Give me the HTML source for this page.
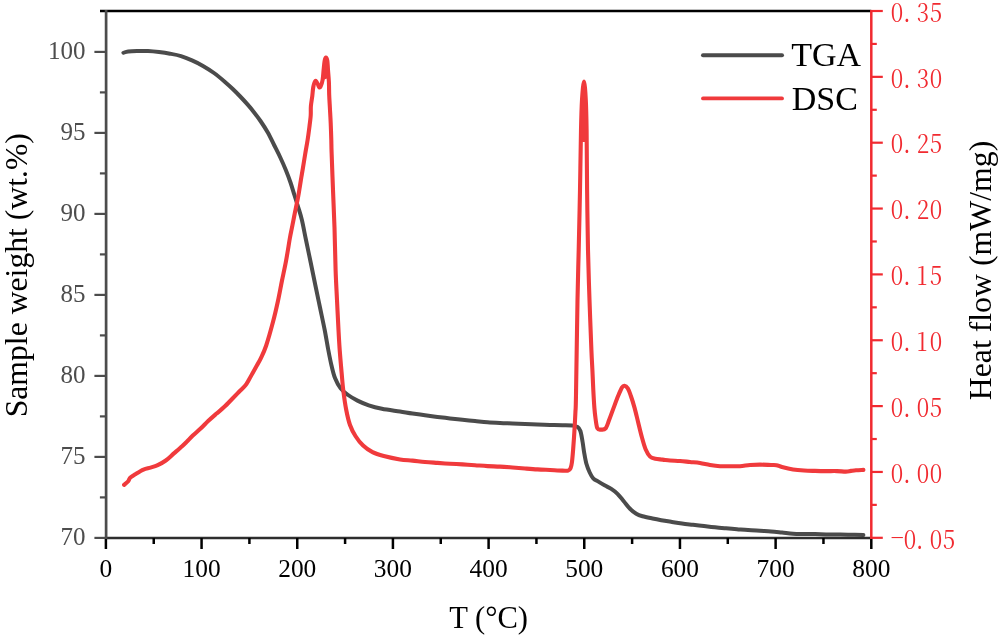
<!DOCTYPE html><html><head><meta charset="utf-8"><title>TGA DSC</title><style>html,body{margin:0;padding:0;background:#fff;}svg{display:block;}text{font-family:"Liberation Serif","Times New Roman",serif;}.rl{font-family:"Noto Serif CJK SC","Liberation Serif",serif;font-weight:400;}</style></head><body>
<svg width="1000" height="640" viewBox="0 0 1000 640">
<rect width="1000" height="640" fill="#fff"/>
<path d="M123.40 52.80 C124.20 52.57 125.93 51.72 128.20 51.40 C130.47 51.08 133.70 50.95 137.00 50.90 C140.30 50.85 144.33 50.90 148.00 51.10 C151.67 51.30 155.33 51.67 159.00 52.10 C162.67 52.53 166.33 53.03 170.00 53.70 C173.67 54.37 177.33 54.98 181.00 56.10 C184.67 57.22 188.33 58.77 192.00 60.40 C195.67 62.03 199.33 63.80 203.00 65.90 C206.67 68.00 210.33 70.33 214.00 73.00 C217.67 75.67 221.92 79.28 225.00 81.90 C228.08 84.53 230.00 86.36 232.50 88.75 C235.00 91.14 237.50 93.64 240.00 96.25 C242.50 98.86 245.21 101.79 247.50 104.40 C249.79 107.01 251.58 109.13 253.75 111.90 C255.92 114.67 258.16 117.57 260.50 121.00 C262.84 124.43 265.53 128.50 267.80 132.50 C270.07 136.50 272.02 140.83 274.10 145.00 C276.18 149.17 278.35 153.33 280.30 157.50 C282.25 161.67 284.10 165.83 285.80 170.00 C287.50 174.17 289.07 178.33 290.50 182.50 C291.93 186.67 293.10 190.83 294.40 195.00 C295.70 199.17 297.05 203.33 298.30 207.50 C299.55 211.67 300.62 214.58 301.90 220.00 C303.18 225.42 304.53 232.92 306.00 240.00 C307.47 247.08 309.15 255.00 310.70 262.50 C312.25 270.00 313.75 277.50 315.30 285.00 C316.85 292.50 318.43 300.00 320.00 307.50 C321.57 315.00 323.32 322.92 324.70 330.00 C326.08 337.08 327.17 344.08 328.30 350.00 C329.43 355.92 330.38 360.82 331.50 365.50 C332.62 370.18 333.48 374.28 335.00 378.10 C336.52 381.92 338.42 385.58 340.60 388.40 C342.78 391.22 345.28 392.97 348.10 395.00 C350.92 397.03 354.06 398.88 357.50 400.60 C360.94 402.32 364.68 403.95 368.75 405.30 C372.82 406.65 376.69 407.67 381.90 408.70 C387.11 409.73 394.90 410.70 400.00 411.50 C405.10 412.30 408.33 412.88 412.50 413.50 C416.67 414.12 420.83 414.68 425.00 415.25 C429.17 415.82 433.33 416.38 437.50 416.90 C441.67 417.42 445.83 417.92 450.00 418.40 C454.17 418.88 458.33 419.32 462.50 419.75 C466.67 420.18 470.83 420.58 475.00 421.00 C479.17 421.42 483.33 421.92 487.50 422.25 C491.67 422.58 495.83 422.79 500.00 423.00 C504.17 423.21 508.33 423.33 512.50 423.50 C516.67 423.67 520.83 423.82 525.00 424.00 C529.17 424.18 533.33 424.43 537.50 424.60 C541.67 424.77 545.83 424.89 550.00 425.00 C554.17 425.11 558.75 425.15 562.50 425.25 C566.25 425.35 570.00 425.33 572.50 425.60 C575.00 425.88 576.18 426.00 577.50 426.90 C578.82 427.80 579.55 428.48 580.40 431.00 C581.25 433.52 581.97 438.37 582.60 442.00 C583.23 445.63 583.57 449.17 584.20 452.80 C584.83 456.43 585.48 460.52 586.40 463.80 C587.32 467.08 588.57 470.08 589.70 472.50 C590.83 474.92 591.68 476.73 593.20 478.30 C594.72 479.87 596.83 480.68 598.80 481.90 C600.77 483.12 602.92 484.43 605.00 485.60 C607.08 486.77 609.17 487.53 611.25 488.90 C613.33 490.27 615.42 491.75 617.50 493.80 C619.58 495.85 621.67 498.71 623.75 501.20 C625.83 503.69 627.92 506.66 630.00 508.75 C632.08 510.84 634.17 512.50 636.25 513.75 C638.33 515.00 639.79 515.46 642.50 516.25 C645.21 517.04 649.38 517.84 652.50 518.50 C655.62 519.16 658.17 519.65 661.25 520.20 C664.33 520.75 667.54 521.25 671.00 521.80 C674.46 522.35 678.33 523.00 682.00 523.50 C685.67 524.00 689.33 524.37 693.00 524.80 C696.67 525.23 700.33 525.68 704.00 526.10 C707.67 526.52 711.33 526.93 715.00 527.30 C718.67 527.67 722.33 527.98 726.00 528.30 C729.67 528.62 733.33 528.90 737.00 529.20 C740.67 529.50 744.17 529.83 748.00 530.10 C751.83 530.37 756.17 530.58 760.00 530.80 C763.83 531.02 767.33 531.12 771.00 531.40 C774.67 531.68 778.33 532.12 782.00 532.50 C785.67 532.88 789.33 533.45 793.00 533.70 C796.67 533.95 800.33 533.93 804.00 534.00 C807.67 534.07 811.33 534.03 815.00 534.10 C818.67 534.17 822.33 534.33 826.00 534.40 C829.67 534.47 833.33 534.45 837.00 534.50 C840.67 534.55 843.60 534.63 848.00 534.70 C852.40 534.77 860.83 534.87 863.40 534.90" fill="none" stroke="#4b4b4b" stroke-width="4" stroke-linejoin="round" stroke-linecap="round"/>
<path d="M124.10 484.90 C124.78 484.30 127.18 482.52 128.20 481.30 C129.22 480.08 129.02 478.78 130.20 477.60 C131.38 476.42 133.08 475.53 135.30 474.20 C137.52 472.87 140.95 470.70 143.50 469.60 C146.05 468.50 148.23 468.35 150.60 467.60 C152.97 466.85 155.17 466.28 157.70 465.10 C160.23 463.92 163.10 462.45 165.80 460.50 C168.50 458.55 171.18 455.78 173.90 453.40 C176.62 451.02 179.98 448.12 182.10 446.20 C184.22 444.28 184.82 443.67 186.60 441.90 C188.38 440.13 190.47 437.82 192.80 435.60 C195.13 433.38 198.00 431.07 200.60 428.60 C203.20 426.13 205.79 423.27 208.40 420.80 C211.01 418.33 213.63 416.08 216.25 413.80 C218.87 411.52 221.34 409.70 224.10 407.10 C226.86 404.50 230.30 400.77 232.80 398.20 C235.30 395.63 237.02 393.82 239.10 391.70 C241.18 389.58 243.62 387.58 245.30 385.50 C246.98 383.42 247.90 381.42 249.20 379.20 C250.50 376.98 251.80 374.53 253.10 372.20 C254.40 369.87 255.70 367.55 257.00 365.20 C258.30 362.85 259.37 361.38 260.90 358.10 C262.43 354.82 264.17 351.58 266.20 345.50 C268.23 339.42 271.15 328.97 273.10 321.60 C275.05 314.23 276.43 308.07 277.90 301.30 C279.37 294.53 280.53 287.78 281.90 281.00 C283.27 274.22 284.77 267.77 286.10 260.60 C287.43 253.43 288.98 243.20 289.90 238.00 C290.82 232.80 291.03 232.27 291.60 229.40 C292.17 226.53 292.73 223.67 293.30 220.80 C293.87 217.93 294.43 215.07 295.00 212.20 C295.57 209.33 296.20 206.30 296.75 203.60 C297.30 200.90 297.79 198.78 298.30 196.00 C298.81 193.22 299.30 189.98 299.80 186.90 C300.30 183.82 300.78 180.63 301.30 177.50 C301.82 174.37 302.25 172.02 302.90 168.10 C303.55 164.18 304.42 158.68 305.20 154.00 C305.98 149.32 306.90 144.52 307.60 140.00 C308.30 135.48 308.88 130.97 309.40 126.90 C309.92 122.83 310.45 119.05 310.70 115.60 C310.95 112.15 310.63 109.48 310.90 106.20 C311.17 102.92 311.90 99.10 312.30 95.90 C312.70 92.70 312.80 89.48 313.30 87.00 C313.80 84.52 314.60 81.58 315.30 81.00 C316.00 80.42 316.83 82.45 317.50 83.50 C318.17 84.55 318.75 86.88 319.30 87.30 C319.85 87.72 320.25 87.22 320.80 86.00 C321.35 84.78 322.13 82.67 322.60 80.00 C323.07 77.33 323.27 73.17 323.60 70.00 C323.93 66.83 324.23 63.08 324.60 61.00 C324.97 58.92 325.35 57.58 325.80 57.50 C326.25 57.42 326.93 58.42 327.30 60.50 C327.67 62.58 327.73 66.42 328.00 70.00 C328.27 73.58 328.70 77.83 328.90 82.00 C329.10 86.17 329.03 90.67 329.20 95.00 C329.37 99.33 329.65 103.33 329.90 108.00 C330.15 112.67 330.47 117.67 330.70 123.00 C330.93 128.33 331.15 135.08 331.30 140.00 C331.45 144.92 331.32 144.17 331.60 152.50 C331.88 160.83 332.52 177.50 333.00 190.00 C333.48 202.50 334.07 214.17 334.50 227.50 C334.93 240.83 335.18 257.92 335.60 270.00 C336.02 282.08 336.52 290.00 337.00 300.00 C337.48 310.00 338.05 321.67 338.50 330.00 C338.95 338.33 339.18 342.92 339.70 350.00 C340.22 357.08 340.98 365.62 341.60 372.50 C342.22 379.38 342.62 385.00 343.40 391.25 C344.17 397.50 345.15 404.38 346.25 410.00 C347.35 415.62 348.44 420.62 350.00 425.00 C351.56 429.38 353.42 432.82 355.60 436.25 C357.78 439.68 360.28 442.94 363.10 445.60 C365.92 448.26 369.06 450.47 372.50 452.20 C375.94 453.93 379.17 454.80 383.75 456.00 C388.33 457.20 395.21 458.63 400.00 459.40 C404.79 460.17 408.33 460.17 412.50 460.60 C416.67 461.03 420.83 461.62 425.00 462.00 C429.17 462.38 433.33 462.61 437.50 462.90 C441.67 463.19 445.83 463.50 450.00 463.75 C454.17 464.00 458.33 464.15 462.50 464.40 C466.67 464.65 470.83 464.97 475.00 465.25 C479.17 465.53 483.33 465.88 487.50 466.10 C491.67 466.33 495.83 466.37 500.00 466.60 C504.17 466.83 508.33 467.18 512.50 467.50 C516.67 467.82 520.83 468.18 525.00 468.50 C529.17 468.82 533.33 469.15 537.50 469.40 C541.67 469.65 545.83 469.80 550.00 470.00 C554.17 470.20 559.48 470.50 562.50 470.60 C565.52 470.70 566.75 471.02 568.10 470.60 C569.45 470.18 569.97 469.45 570.60 468.10 C571.23 466.75 571.48 465.52 571.90 462.50 C572.32 459.48 572.68 455.21 573.10 450.00 C573.52 444.79 574.02 437.50 574.40 431.25 C574.78 425.00 575.13 418.54 575.40 412.50 C575.67 406.46 575.65 413.75 576.00 395.00 C576.35 376.25 577.05 324.17 577.50 300.00 C577.95 275.83 578.28 268.33 578.70 250.00 C579.12 231.67 579.62 210.00 580.00 190.00 C580.38 170.00 580.67 145.00 581.00 130.00 C581.33 115.00 581.50 108.08 582.00 100.00 C582.50 91.92 583.37 81.50 584.00 81.50 C584.63 81.50 585.37 91.92 585.80 100.00 C586.23 108.08 586.38 115.00 586.60 130.00 C586.82 145.00 586.87 170.00 587.10 190.00 C587.33 210.00 587.60 231.67 588.00 250.00 C588.40 268.33 588.93 283.33 589.50 300.00 C590.07 316.67 590.92 338.33 591.40 350.00 C591.88 361.67 592.08 363.33 592.40 370.00 C592.72 376.67 592.97 383.67 593.30 390.00 C593.63 396.33 594.02 403.17 594.40 408.00 C594.78 412.83 595.10 415.60 595.60 419.00 C596.10 422.40 596.48 426.63 597.40 428.40 C598.32 430.17 599.73 429.60 601.10 429.60 C602.47 429.60 604.23 430.08 605.60 428.40 C606.97 426.72 607.95 422.97 609.30 419.50 C610.65 416.03 612.22 411.55 613.70 407.60 C615.18 403.65 616.83 399.13 618.20 395.80 C619.57 392.47 620.87 389.28 621.90 387.60 C622.93 385.92 623.42 385.57 624.40 385.70 C625.38 385.83 626.73 386.72 627.80 388.40 C628.87 390.08 629.68 392.60 630.80 395.80 C631.92 399.00 633.27 403.15 634.50 407.60 C635.73 412.05 636.97 417.55 638.20 422.50 C639.43 427.45 640.67 432.85 641.90 437.30 C643.13 441.75 644.23 445.98 645.60 449.20 C646.97 452.42 648.48 455.00 650.10 456.60 C651.72 458.20 653.20 458.30 655.30 458.80 C657.40 459.30 660.25 459.32 662.70 459.60 C665.15 459.88 667.12 460.27 670.00 460.50 C672.88 460.73 676.67 460.75 680.00 461.00 C683.33 461.25 686.67 461.67 690.00 462.00 C693.33 462.33 696.67 462.50 700.00 463.00 C703.33 463.50 706.67 464.47 710.00 465.00 C713.33 465.53 716.67 466.00 720.00 466.20 C723.33 466.40 726.67 466.20 730.00 466.20 C733.33 466.20 736.67 466.40 740.00 466.20 C743.33 466.00 746.67 465.27 750.00 465.00 C753.33 464.73 756.50 464.60 760.00 464.60 C763.50 464.60 768.25 464.90 771.00 465.00 C773.75 465.10 774.67 464.87 776.50 465.20 C778.33 465.53 779.25 466.30 782.00 467.00 C784.75 467.70 789.33 468.82 793.00 469.40 C796.67 469.98 800.33 470.25 804.00 470.50 C807.67 470.75 811.33 470.80 815.00 470.90 C818.67 471.00 822.33 471.07 826.00 471.10 C829.67 471.13 833.70 471.02 837.00 471.10 C840.30 471.18 843.47 471.63 845.80 471.60 C848.13 471.57 849.30 471.12 851.00 470.90 C852.70 470.68 853.93 470.47 856.00 470.30 C858.07 470.13 862.17 469.97 863.40 469.90" fill="none" stroke="#f03a3c" stroke-width="4.1" stroke-linejoin="round" stroke-linecap="round"/>
<path d="M580.6 142 L581 130 L582 100 L583 88 L584 81.5 L585 88 L585.8 100 L586.6 130 L586.8 142 Z" fill="#f03a3c"/>
<path d="M322.6 80 L323.6 70 L324.6 61 L325.8 57.5 L327.3 60.5 L328 70 L328.6 78 Z" fill="#f03a3c"/>
<line x1="100" y1="11.1" x2="871.3" y2="11.1" stroke="#000" stroke-width="2.5"/>
<line x1="105.9" y1="538.0" x2="871.3" y2="538.0" stroke="#2e2e2e" stroke-width="2.6"/>
<line x1="105.90" y1="538.0" x2="105.90" y2="549.0" stroke="#000" stroke-width="2.5"/>
<line x1="153.74" y1="538.0" x2="153.74" y2="544.0" stroke="#000" stroke-width="2.5"/>
<line x1="201.57" y1="538.0" x2="201.57" y2="549.0" stroke="#000" stroke-width="2.5"/>
<line x1="249.41" y1="538.0" x2="249.41" y2="544.0" stroke="#000" stroke-width="2.5"/>
<line x1="297.25" y1="538.0" x2="297.25" y2="549.0" stroke="#000" stroke-width="2.5"/>
<line x1="345.09" y1="538.0" x2="345.09" y2="544.0" stroke="#000" stroke-width="2.5"/>
<line x1="392.92" y1="538.0" x2="392.92" y2="549.0" stroke="#000" stroke-width="2.5"/>
<line x1="440.76" y1="538.0" x2="440.76" y2="544.0" stroke="#000" stroke-width="2.5"/>
<line x1="488.60" y1="538.0" x2="488.60" y2="549.0" stroke="#000" stroke-width="2.5"/>
<line x1="536.44" y1="538.0" x2="536.44" y2="544.0" stroke="#000" stroke-width="2.5"/>
<line x1="584.27" y1="538.0" x2="584.27" y2="549.0" stroke="#000" stroke-width="2.5"/>
<line x1="632.11" y1="538.0" x2="632.11" y2="544.0" stroke="#000" stroke-width="2.5"/>
<line x1="679.95" y1="538.0" x2="679.95" y2="549.0" stroke="#000" stroke-width="2.5"/>
<line x1="727.79" y1="538.0" x2="727.79" y2="544.0" stroke="#000" stroke-width="2.5"/>
<line x1="775.62" y1="538.0" x2="775.62" y2="549.0" stroke="#000" stroke-width="2.5"/>
<line x1="823.46" y1="538.0" x2="823.46" y2="544.0" stroke="#000" stroke-width="2.5"/>
<line x1="871.30" y1="538.0" x2="871.30" y2="549.0" stroke="#000" stroke-width="2.5"/>
<line x1="106.1" y1="10.1" x2="106.1" y2="539.0" stroke="#4c4c4c" stroke-width="2.7"/>
<line x1="94.40" y1="537.90" x2="105.90" y2="537.90" stroke="#4c4c4c" stroke-width="2.2"/>
<line x1="99.90" y1="497.40" x2="105.90" y2="497.40" stroke="#4c4c4c" stroke-width="2.2"/>
<line x1="94.40" y1="456.90" x2="105.90" y2="456.90" stroke="#4c4c4c" stroke-width="2.2"/>
<line x1="99.90" y1="416.40" x2="105.90" y2="416.40" stroke="#4c4c4c" stroke-width="2.2"/>
<line x1="94.40" y1="375.90" x2="105.90" y2="375.90" stroke="#4c4c4c" stroke-width="2.2"/>
<line x1="99.90" y1="335.40" x2="105.90" y2="335.40" stroke="#4c4c4c" stroke-width="2.2"/>
<line x1="94.40" y1="294.90" x2="105.90" y2="294.90" stroke="#4c4c4c" stroke-width="2.2"/>
<line x1="99.90" y1="254.40" x2="105.90" y2="254.40" stroke="#4c4c4c" stroke-width="2.2"/>
<line x1="94.40" y1="213.90" x2="105.90" y2="213.90" stroke="#4c4c4c" stroke-width="2.2"/>
<line x1="99.90" y1="173.40" x2="105.90" y2="173.40" stroke="#4c4c4c" stroke-width="2.2"/>
<line x1="94.40" y1="132.90" x2="105.90" y2="132.90" stroke="#4c4c4c" stroke-width="2.2"/>
<line x1="99.90" y1="92.40" x2="105.90" y2="92.40" stroke="#4c4c4c" stroke-width="2.2"/>
<line x1="94.40" y1="51.90" x2="105.90" y2="51.90" stroke="#4c4c4c" stroke-width="2.2"/>
<line x1="871.3" y1="10.1" x2="871.3" y2="539.0" stroke="#f12a30" stroke-width="2.5"/>
<line x1="871.30" y1="537.80" x2="882.80" y2="537.80" stroke="#f12a30" stroke-width="2.2"/>
<line x1="871.30" y1="504.87" x2="876.80" y2="504.87" stroke="#f12a30" stroke-width="2.2"/>
<line x1="871.30" y1="471.95" x2="882.80" y2="471.95" stroke="#f12a30" stroke-width="2.2"/>
<line x1="871.30" y1="439.02" x2="876.80" y2="439.02" stroke="#f12a30" stroke-width="2.2"/>
<line x1="871.30" y1="406.10" x2="882.80" y2="406.10" stroke="#f12a30" stroke-width="2.2"/>
<line x1="871.30" y1="373.17" x2="876.80" y2="373.17" stroke="#f12a30" stroke-width="2.2"/>
<line x1="871.30" y1="340.25" x2="882.80" y2="340.25" stroke="#f12a30" stroke-width="2.2"/>
<line x1="871.30" y1="307.33" x2="876.80" y2="307.33" stroke="#f12a30" stroke-width="2.2"/>
<line x1="871.30" y1="274.40" x2="882.80" y2="274.40" stroke="#f12a30" stroke-width="2.2"/>
<line x1="871.30" y1="241.48" x2="876.80" y2="241.48" stroke="#f12a30" stroke-width="2.2"/>
<line x1="871.30" y1="208.55" x2="882.80" y2="208.55" stroke="#f12a30" stroke-width="2.2"/>
<line x1="871.30" y1="175.62" x2="876.80" y2="175.62" stroke="#f12a30" stroke-width="2.2"/>
<line x1="871.30" y1="142.70" x2="882.80" y2="142.70" stroke="#f12a30" stroke-width="2.2"/>
<line x1="871.30" y1="109.78" x2="876.80" y2="109.78" stroke="#f12a30" stroke-width="2.2"/>
<line x1="871.30" y1="76.85" x2="882.80" y2="76.85" stroke="#f12a30" stroke-width="2.2"/>
<line x1="871.30" y1="43.93" x2="876.80" y2="43.93" stroke="#f12a30" stroke-width="2.2"/>
<line x1="871.30" y1="11.00" x2="882.80" y2="11.00" stroke="#f12a30" stroke-width="2.2"/>
<text x="105.90" y="577.4" font-size="25.4" text-anchor="middle" fill="#000">0</text>
<text x="201.57" y="577.4" font-size="25.4" text-anchor="middle" fill="#000">100</text>
<text x="297.25" y="577.4" font-size="25.4" text-anchor="middle" fill="#000">200</text>
<text x="392.92" y="577.4" font-size="25.4" text-anchor="middle" fill="#000">300</text>
<text x="488.60" y="577.4" font-size="25.4" text-anchor="middle" fill="#000">400</text>
<text x="584.27" y="577.4" font-size="25.4" text-anchor="middle" fill="#000">500</text>
<text x="679.95" y="577.4" font-size="25.4" text-anchor="middle" fill="#000">600</text>
<text x="775.62" y="577.4" font-size="25.4" text-anchor="middle" fill="#000">700</text>
<text x="871.30" y="577.4" font-size="25.4" text-anchor="middle" fill="#000">800</text>
<text x="85.6" y="544.90" font-size="25" text-anchor="end" fill="#4d4d4d">70</text>
<text x="85.6" y="463.90" font-size="25" text-anchor="end" fill="#4d4d4d">75</text>
<text x="85.6" y="382.90" font-size="25" text-anchor="end" fill="#4d4d4d">80</text>
<text x="85.6" y="301.90" font-size="25" text-anchor="end" fill="#4d4d4d">85</text>
<text x="85.6" y="220.90" font-size="25" text-anchor="end" fill="#4d4d4d">90</text>
<text x="85.6" y="139.90" font-size="25" text-anchor="end" fill="#4d4d4d">95</text>
<text x="85.6" y="58.90" font-size="25" text-anchor="end" fill="#4d4d4d">100</text>
<text class="rl" transform="translate(890 548.50) scale(0.86 1)" x="0.87 16.02 30.38 46.26 61.37" y="0" dy="-1.6 1.6" font-size="26" fill="#f12a30">−0.05</text>
<text class="rl" transform="translate(890 482.65) scale(0.86 1)" x="0.91 15.27 31.14 46.26" y="0" font-size="26" fill="#f12a30">0.00</text>
<text class="rl" transform="translate(890 416.80) scale(0.86 1)" x="0.91 15.27 31.14 46.26" y="0" font-size="26" fill="#f12a30">0.05</text>
<text class="rl" transform="translate(890 350.95) scale(0.86 1)" x="0.91 15.27 31.14 46.26" y="0" font-size="26" fill="#f12a30">0.10</text>
<text class="rl" transform="translate(890 285.10) scale(0.86 1)" x="0.91 15.27 31.14 46.26" y="0" font-size="26" fill="#f12a30">0.15</text>
<text class="rl" transform="translate(890 219.25) scale(0.86 1)" x="0.91 15.27 31.14 46.26" y="0" font-size="26" fill="#f12a30">0.20</text>
<text class="rl" transform="translate(890 153.40) scale(0.86 1)" x="0.91 15.27 31.14 46.26" y="0" font-size="26" fill="#f12a30">0.25</text>
<text class="rl" transform="translate(890 87.55) scale(0.86 1)" x="0.91 15.27 31.14 46.26" y="0" font-size="26" fill="#f12a30">0.30</text>
<text class="rl" transform="translate(890 21.70) scale(0.86 1)" x="0.91 15.27 31.14 46.26" y="0" font-size="26" fill="#f12a30">0.35</text>
<text x="488.6" y="628.3" font-size="30.6" text-anchor="middle" fill="#000">T (°C)</text>
<text transform="translate(27.3 275.2) rotate(-90)" font-size="31.7" text-anchor="middle" fill="#000">Sample weight (wt.%)</text>
<text transform="translate(991.2 270.5) rotate(-90)" font-size="31.8" text-anchor="middle" fill="#000">Heat flow (mW/mg)</text>
<line x1="703" y1="55.3" x2="782" y2="55.3" stroke="#4b4b4b" stroke-width="4" stroke-linecap="round"/>
<line x1="703" y1="98.4" x2="782" y2="98.4" stroke="#f03a3c" stroke-width="3.8" stroke-linecap="round"/>
<text x="791.3" y="66.3" font-size="34" fill="#000">TGA</text>
<text x="791.8" y="109.7" font-size="34" fill="#000">DSC</text>
</svg></body></html>
